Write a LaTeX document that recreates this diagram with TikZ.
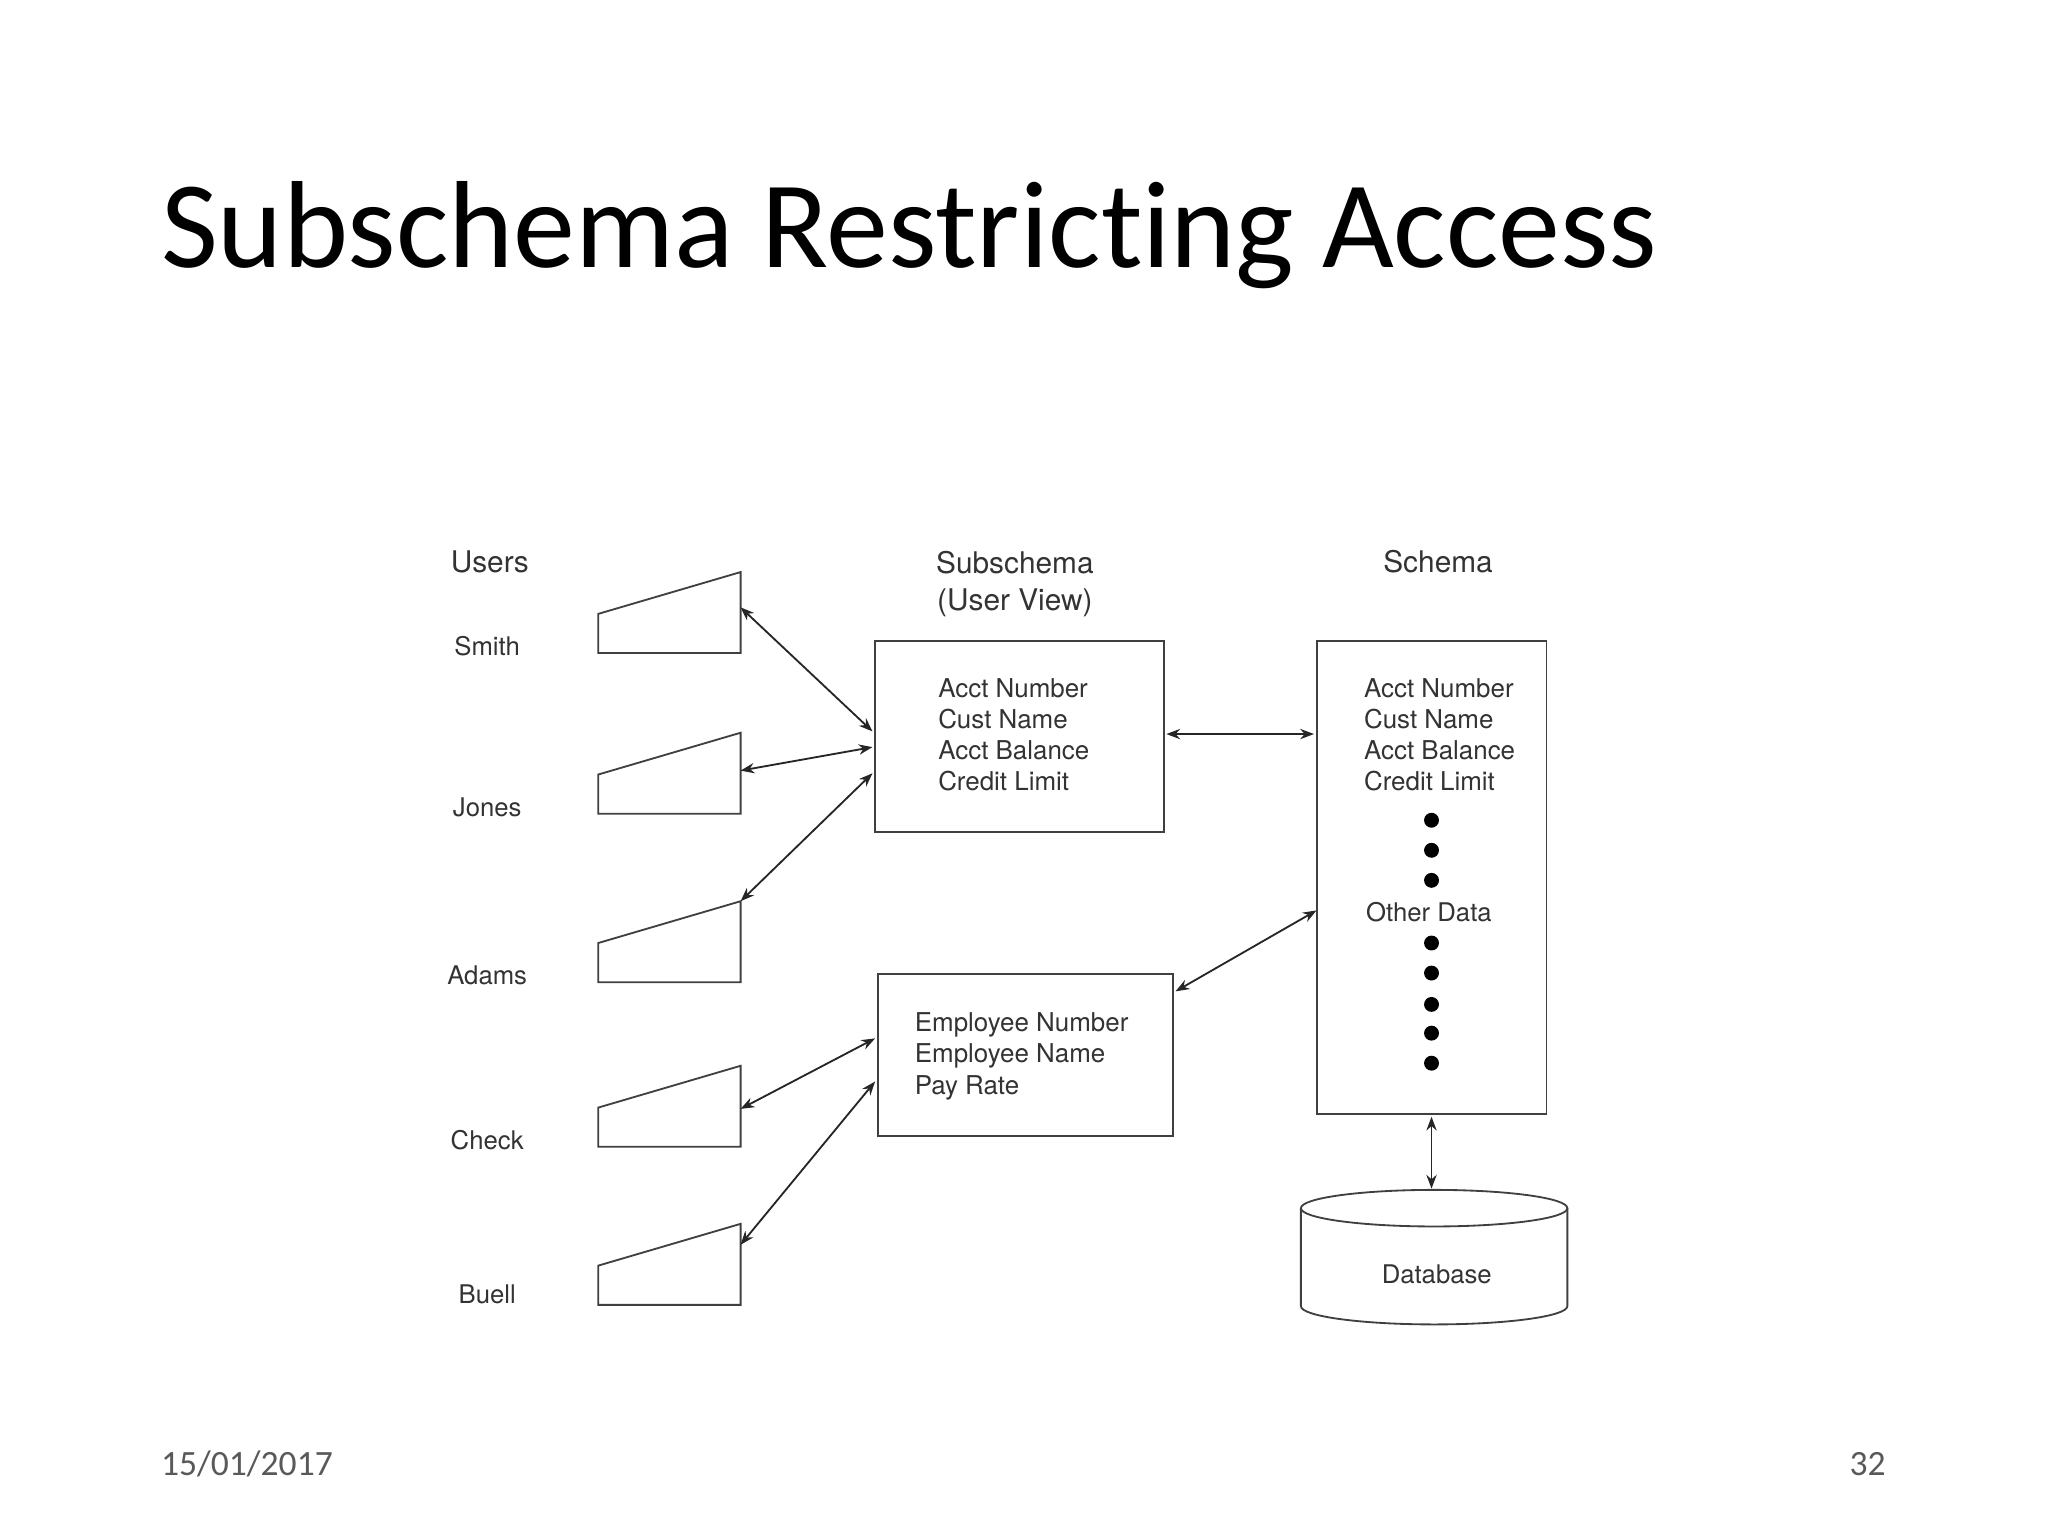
\documentclass[tikz,border=0pt]{standalone}
\usepackage{fontspec}
\setmainfont{Carlito}[RawFeature=-liga]
\newfontfamily\diagfont{TeX Gyre Heros}
\usetikzlibrary{arrows.meta, shapes.geometric}

\begin{document}
\begin{tikzpicture}[x=0.02cm, y=-0.02cm,
    lbl/.style={font=\diagfont\fontsize{11.2}{13}\selectfont, text=black!80, inner sep=0},
    hdr/.style={font=\diagfont\fontsize{13}{16}\selectfont, text=black!80, align=center, inner sep=0},
    field/.style={font=\diagfont\fontsize{11.3}{13.6}\selectfont, text=black!80, align=left, anchor=north west, inner sep=0},
    link/.style={{Stealth[length=6pt,width=4.5pt]}-{Stealth[length=6pt,width=4.5pt]}, thick, black!85},
    dot/.style={circle, fill=black, inner sep=0, minimum size=6.5pt}]
\useasboundingbox (0,0) rectangle (1568,1176);

% Title and footer
\node[anchor=base west, inner sep=0, font=\fontsize{54}{60}\selectfont] (title) at (123,205) {Subschema Restricting Access};
\node[anchor=base west, inner sep=0, font=\fontsize{15.5}{18}\selectfont, text=black!65] (date) at (123,1130) {15/01/2017};
\node[anchor=base east, inner sep=0, font=\fontsize{15.5}{18}\selectfont, text=black!65] (page) at (1444,1130) {32};

% Users and terminals
\node[hdr] (users) at (375,430) {Users};
\foreach \name/\yb/\ny/\ya in {Smith/500/495/465, Jones/623/618/590, Adams/752/747/690, Check/878/873/849, Buell/999/991/953}{
  \node[lbl] (\name) at (373,\ny) {\name};
  \draw[thick, black!75] (458,\yb) -- (458,\yb-30) -- (567,\yb-62) -- (567,\yb) -- cycle;
  \coordinate (\name-t) at (567,\ya);
}

% Subschemas
\node[hdr] (subhdr) at (777,447) {Subschema\\(User View)};
\draw[thick, black!75] (670,491) rectangle (891,637);
\node[field] (sub1) at (718,519) {Acct Number\\Cust Name\\Acct Balance\\Credit Limit};
\draw[thick, black!75] (672,746) rectangle (898,870);
\node[field] (sub2) at (700,775) {Employee Number\\Employee Name\\Pay Rate};

% Schema
\node[hdr] (schhdr) at (1101,430) {Schema};
\draw[thick, black!75] (1008,491) rectangle (1184,853);
\node[field] (sch) at (1044,519) {Acct Number\\Cust Name\\Acct Balance\\Credit Limit};
\foreach \y in {628,651,674,722,745,769,791,814}
  \node[dot] at (1096,\y) {};
\node[lbl] (other) at (1094,698) {Other Data};

% Database
\draw[thick, black!75] (996,925) -- (996,1000) arc[start angle=180, end angle=0, x radius=102, y radius=14] -- (1200,925);
\draw[thick, black!75] (1098,925) ellipse[x radius=102, y radius=14];
\node[lbl] (db) at (1100,976) {Database};

% Connectors
\coordinate (s1a) at (668,560);
\coordinate (s1b) at (668,572);
\coordinate (s1c) at (668,592);
\coordinate (s1r) at (893,562);
\coordinate (schl) at (1006,562);
\coordinate (scho) at (1008,697);
\coordinate (s2r) at (900,759);
\coordinate (s2a) at (670,795);
\coordinate (s2b) at (670,828);
\coordinate (schb) at (1096,855);
\coordinate (dbt) at (1096,910);
\draw[link] (Smith-t) -- (s1a);
\draw[link] (Jones-t) -- (s1b);
\draw[link] (Adams-t) -- (s1c);
\draw[link] (Check-t) -- (s2a);
\draw[link] (Buell-t) -- (s2b);
\draw[link] (s1r) -- (schl);
\draw[link] (scho) -- (s2r);
\draw[link] (schb) -- (dbt);
\end{tikzpicture}
\end{document}
